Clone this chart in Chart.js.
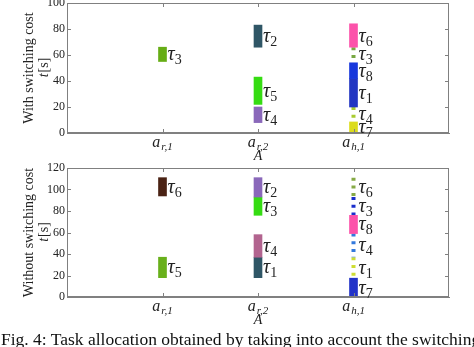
<!DOCTYPE html>
<html><head><meta charset="utf-8">
<script src="https://cdn.jsdelivr.net/npm/chart.js@4/dist/chart.umd.min.js"></script>
<style>
html,body{margin:0;padding:0;background:#fff;width:474px;height:347px;overflow:hidden}
.c{position:absolute;left:0;width:474px;height:165px}
#cap{position:absolute;left:1px;top:329px;font:17.5px "Liberation Serif",serif;line-height:20px;white-space:nowrap;color:#111}
</style></head><body>
<div class="c" style="top:0"><canvas id="top" width="474" height="165"></canvas></div>
<div class="c" style="top:160px"><canvas id="bot" width="474" height="165"></canvas></div>
<div id="cap">Fig. 4: Task allocation obtained by taking into account the switching</div>
<script>
// ---- categories / ticks ----
const categories = ['a', 'a', 'a'];
const categorySubs = ['r,1', 'r,2', 'h,1'];
const yTicksTop = [0, 20, 40, 60, 80, 100];
const yTicksBottom = [0, 20, 40, 60, 80, 100, 120];

// ---- With switching cost: solid segments ----
const topTask  = ['3', '2', '5', '4', '6', '8', '1', '7'];
const topCat   = [0, 1, 1, 1, 2, 2, 2, 2];
const topStart = [55, 66, 22, 8, 66, 42, 20, 0];
const topEnd   = [66, 83, 43, 20, 84, 54, 42, 8.5];
// dotted (switching) segments
const topDotTask  = ['3', '4'];
const topDotCat   = [2, 2];
const topDotStart = [55, 8.5];
const topDotEnd   = [66, 20];

// ---- Without switching cost ----
const botTask  = ['6', '5', '2', '3', '4', '1', '8', '7'];
const botCat   = [0, 0, 1, 1, 1, 1, 2, 2];
const botStart = [94, 18, 93, 76, 37, 18, 59, 0];
const botEnd   = [111, 37, 111, 93, 58, 37, 76, 17.5];
const botDotTask  = ['6', '3', '4', '1'];
const botDotCat   = [2, 2, 2, 2];
const botDotStart = [93, 76, 37, 17.5];
const botDotEnd   = [111, 93, 59, 37];

// ---- styles ----
const topColors = ['#66ad15', '#2f5666', '#35dc12', '#8a68ba', '#fc52aa', '#1737dc', '#2236c2', '#dcdc1c'];
const topDotColors = ['#78a842', '#a9cc30'];
const botColors = ['#4a2214', '#68b01b', '#8a68ba', '#35dc12', '#b2648f', '#2f5666', '#fc52aa', '#2233c8'];
const botDotColors = ['#86aa46', '#1a2ecc', '#3379dd', '#cedd33'];

const SERIF = '"Liberation Serif", "DejaVu Serif", serif';

function buildDatasets(task, cat, s, e, colors, dTask, dCat, ds, de, dColors) {
  const out = [];
  task.forEach((t, i) => out.push({
    type: 'bar', label: 'τ' + t,
    data: [{x: cat[i] + 1, y: [s[i], e[i]]}],
    backgroundColor: colors[i], borderWidth: 0, barThickness: 8, grouped: false
  }));
  dTask.forEach((t, i) => out.push({
    type: 'line', label: 'τ' + t + ' switch',
    data: [{x: dCat[i] + 1, y: de[i]}, {x: dCat[i] + 1, y: ds[i]}],
    borderColor: dColors[i], borderWidth: 4, borderDash: [3, 4.7], borderCapStyle: 'butt',
    pointRadius: 0, fill: false
  }));
  return out;
}

function labelsOf(task, cat, s, e, dTask, dCat, ds, de) {
  const L = [];
  task.forEach((t, i) => L.push({t, c: cat[i] + 1, v: (s[i] + e[i]) / 2}));
  dTask.forEach((t, i) => L.push({t, c: dCat[i] + 1, v: (ds[i] + de[i]) / 2}));
  return L;
}

function deco(title, labels) {
  return {
    id: 'deco',
    afterDraw(chart) {
      const {ctx, chartArea: a, scales: {x, y}} = chart;
      ctx.save();
      ctx.strokeStyle = '#808080'; ctx.lineWidth = 1;
      ctx.strokeRect(Math.round(a.left) + 0.5, Math.round(a.top) + 0.5,
        Math.round(a.right - a.left) - 1, Math.round(a.bottom - a.top) - 1);
      ctx.beginPath();
      y.ticks.forEach(t => {
        const py = Math.round(y.getPixelForValue(t.value)) + 0.5;
        ctx.moveTo(a.left, py); ctx.lineTo(a.left + 4, py);
        ctx.moveTo(a.right, py); ctx.lineTo(a.right - 4, py);
      });
      categories.forEach((c, i) => {
        const px = Math.round(x.getPixelForValue(i + 1)) + 0.5;
        ctx.moveTo(px, a.bottom); ctx.lineTo(px, a.bottom - 4);
        ctx.moveTo(px, a.top); ctx.lineTo(px, a.top + 4);
      });
      ctx.stroke();
      ctx.fillStyle = '#222';
      ctx.textBaseline = 'alphabetic';
      // category labels
      categories.forEach((c, i) => {
        const px = x.getPixelForValue(i + 1);
        ctx.font = 'italic 16px ' + SERIF;
        const w1 = ctx.measureText(c).width;
        ctx.font = 'italic 11px ' + SERIF;
        const w2 = ctx.measureText(categorySubs[i]).width;
        const x0 = px - (w1 + w2 + 1) / 2;
        ctx.font = 'italic 16px ' + SERIF;
        ctx.textAlign = 'left';
        ctx.fillText(c, x0, a.bottom + 14);
        ctx.font = 'italic 11px ' + SERIF;
        ctx.fillText(categorySubs[i], x0 + w1 + 1, a.bottom + 17);
      });
      // x title
      ctx.font = 'italic 14px ' + SERIF;
      ctx.textAlign = 'center';
      ctx.fillText('A', x.getPixelForValue(2), a.bottom + 27);
      // y title
      ctx.save();
      ctx.translate(33, (a.top + a.bottom) / 2);
      ctx.rotate(-Math.PI / 2);
      ctx.font = '14px ' + SERIF;
      ctx.textAlign = 'center';
      ctx.fillText(title, 0, 0);
      ctx.font = 'italic 14px ' + SERIF;
      const wt = ctx.measureText('t').width;
      ctx.font = '14px ' + SERIF;
      const ws = ctx.measureText('[s]').width;
      ctx.textAlign = 'left';
      ctx.font = 'italic 14px ' + SERIF;
      ctx.fillText('t', -(wt + ws) / 2, 15);
      ctx.font = '14px ' + SERIF;
      ctx.fillText('[s]', -(wt + ws) / 2 + wt + 1, 15);
      ctx.restore();
      // task labels
      ctx.textAlign = 'left';
      labels.forEach(l => {
        const px = x.getPixelForValue(l.c) + 5;
        const py = y.getPixelForValue(l.v);
        ctx.font = 'italic 20px ' + SERIF;
        ctx.fillText('τ', px, py + 6);
        const w = ctx.measureText('τ').width;
        ctx.font = '14px ' + SERIF;
        ctx.fillText(l.t, px + w, py + 10);
      });
      ctx.restore();
    }
  };
}

function makeChart(id, yMax, yTicks, padTop, xHeight, datasets, title, labels) {
  return new Chart(document.getElementById(id), {
    type: 'bar',
    data: {datasets},
    options: {
      responsive: false, animation: false, events: [],
      layout: {padding: {left: 0, right: 25, top: padTop, bottom: 0}},
      plugins: {legend: {display: false}, tooltip: {enabled: false}},
      scales: {
        x: {
          type: 'linear', min: 0, max: 4, offset: false,
          ticks: {display: false},
          grid: {display: false, drawTicks: false},
          border: {display: true, color: '#808080'},
          afterFit: s => { s.height = xHeight; s.paddingLeft = 0; s.paddingRight = 0; }
        },
        y: {
          min: 0, max: yMax,
          afterBuildTicks: s => { s.ticks = yTicks.map(v => ({value: v})); },
          ticks: {font: {family: SERIF, size: 12}, color: '#222', padding: 2},
          grid: {display: false, drawTicks: false},
          border: {display: true, color: '#808080'},
          afterFit: s => { s.width = 67; s.paddingTop = 0; s.paddingBottom = 0; }
        }
      }
    },
    plugins: [deco(title, labels)]
  });
}

makeChart('top', 100, yTicksTop, 3, 32,
  buildDatasets(topTask, topCat, topStart, topEnd, topColors, topDotTask, topDotCat, topDotStart, topDotEnd, topDotColors),
  'With switching cost',
  labelsOf(topTask, topCat, topStart, topEnd, topDotTask, topDotCat, topDotStart, topDotEnd));

makeChart('bot', 120, yTicksBottom, 8, 28,
  buildDatasets(botTask, botCat, botStart, botEnd, botColors, botDotTask, botDotCat, botDotStart, botDotEnd, botDotColors),
  'Without switching cost',
  labelsOf(botTask, botCat, botStart, botEnd, botDotTask, botDotCat, botDotStart, botDotEnd));
</script>
</body></html>
